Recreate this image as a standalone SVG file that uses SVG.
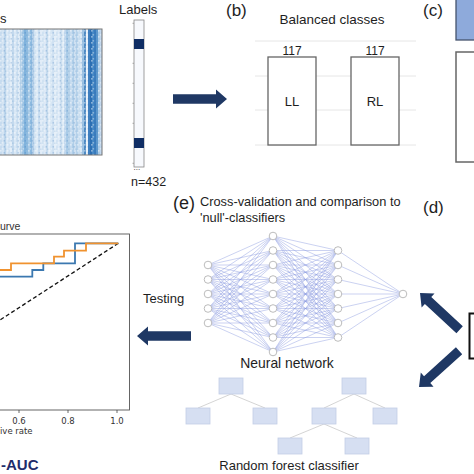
<svg xmlns="http://www.w3.org/2000/svg" width="474" height="474" viewBox="0 0 474 474">
<style>
text{font-family:"Liberation Sans",Arial,sans-serif;fill:#1e1e1e}
.lbl{font-size:17px}
.t13{font-size:13px}
.mpl{font-family:"DejaVu Sans",sans-serif;font-size:8.5px;fill:#333}
.grid{stroke:#e6e6e6;stroke-width:1}
.bar{fill:#fff;stroke:#666;stroke-width:1.3}
.nn{fill:none;stroke:#8a9ae0;stroke-width:0.6;stroke-opacity:0.75;stroke-linejoin:round}
.node{fill:#fff;stroke:#b4b4b4;stroke-width:0.9}
.rf{fill:#d6dff2;stroke:#c3cde6;stroke-width:0.8}
.rfl{stroke:#cfcfcf;stroke-width:0.9}
.arrow{fill:#1f3864}
</style>
<defs>
<path id="arr" d="M0 0L-11 -9.5L-11 -4.7L-54 -4.7L-54 4.7L-11 4.7L-11 9.5Z"/>
<pattern id="speck" width="7" height="6" patternUnits="userSpaceOnUse">
<rect x="0" y="0" width="1.6" height="1.6" fill="#fff" opacity="0.45"/>
<rect x="3.5" y="2" width="1.6" height="1.6" fill="#2f6fb0" opacity="0.22"/>
<rect x="1.5" y="4" width="1.6" height="1.6" fill="#fff" opacity="0.35"/>
<rect x="5" y="4.5" width="1.6" height="1.4" fill="#2f6fb0" opacity="0.15"/>
</pattern>
</defs>

<g id="panel-a">
<text x="0" y="22.5" class="t13">s</text>
<g id="heatmap">
<rect x="0" y="29" width="2" height="126" fill="#c6dbef"/><rect x="2" y="29" width="2" height="126" fill="#d4e4f3"/><rect x="4" y="29" width="2" height="126" fill="#bcd5ec"/><rect x="6" y="29" width="2" height="126" fill="#dbe9f6"/><rect x="8" y="29" width="2" height="126" fill="#cfe1f2"/><rect x="10" y="29" width="2" height="126" fill="#e3eef8"/><rect x="12" y="29" width="2" height="126" fill="#c3d9ee"/><rect x="14" y="29" width="2" height="126" fill="#d8e7f5"/><rect x="16" y="29" width="2" height="126" fill="#cadef0"/><rect x="18" y="29" width="2" height="126" fill="#e0ecf7"/><rect x="20" y="29" width="2" height="126" fill="#b8d3ea"/><rect x="22" y="29" width="2" height="126" fill="#9cc3e3"/><rect x="24" y="29" width="2" height="126" fill="#7fb2dc"/><rect x="26" y="29" width="2" height="126" fill="#90bce0"/><rect x="28" y="29" width="2" height="126" fill="#a6c9e6"/><rect x="30" y="29" width="2" height="126" fill="#8cb9df"/><rect x="32" y="29" width="2" height="126" fill="#b6d1ea"/><rect x="34" y="29" width="2" height="126" fill="#d3e4f3"/><rect x="36" y="29" width="2" height="126" fill="#dceaf6"/><rect x="38" y="29" width="2" height="126" fill="#c9ddf0"/><rect x="40" y="29" width="2" height="126" fill="#e2edf8"/><rect x="42" y="29" width="2" height="126" fill="#d0e2f2"/><rect x="44" y="29" width="2" height="126" fill="#dde9f6"/><rect x="46" y="29" width="2" height="126" fill="#c7dcef"/><rect x="48" y="29" width="2" height="126" fill="#e4eef8"/><rect x="50" y="29" width="2" height="126" fill="#d6e6f4"/><rect x="52" y="29" width="2" height="126" fill="#cfe1f2"/><rect x="54" y="29" width="2" height="126" fill="#e6f0f9"/><rect x="56" y="29" width="2" height="126" fill="#d2e3f3"/><rect x="58" y="29" width="2" height="126" fill="#dfebf7"/><rect x="60" y="29" width="2" height="126" fill="#cde0f1"/><rect x="62" y="29" width="2" height="126" fill="#e1edf7"/><rect x="64" y="29" width="2" height="126" fill="#bed6ed"/><rect x="66" y="29" width="2" height="126" fill="#a9cbe7"/><rect x="68" y="29" width="2" height="126" fill="#b9d4eb"/><rect x="70" y="29" width="2" height="126" fill="#c4daef"/><rect x="72" y="29" width="2" height="126" fill="#aecde8"/><rect x="74" y="29" width="2" height="126" fill="#cfe1f2"/><rect x="76" y="29" width="2" height="126" fill="#b5d1ea"/><rect x="78" y="29" width="2" height="126" fill="#c8ddf0"/><rect x="80" y="29" width="2" height="126" fill="#d9e8f5"/><rect x="82" y="29" width="2" height="126" fill="#9fc4e4"/><rect x="84" y="29" width="2" height="126" fill="#4f8bc4"/><rect x="86" y="29" width="2" height="126" fill="#e8f1fa"/><rect x="88" y="29" width="2" height="126" fill="#3e7fbf"/><rect x="90" y="29" width="2" height="126" fill="#2c6fb3"/><rect x="92" y="29" width="2" height="126" fill="#4688c5"/><rect x="94" y="29" width="2" height="126" fill="#3a7cbd"/><rect x="96" y="29" width="2" height="126" fill="#5e98cc"/><rect x="98" y="29" width="2" height="126" fill="#a9cae7"/><rect x="100" y="29" width="2" height="126" fill="#c2d8ee"/>
<rect x="0" y="29" width="102" height="126" fill="url(#speck)"/>
<rect x="-1" y="29" width="103" height="126" fill="none" stroke="#777" stroke-width="1"/>
</g>
<text x="119" y="14" class="t13">Labels</text>
<g id="labels-bar">
<rect x="134" y="20" width="10" height="147" fill="#f7f9fd" stroke="#888" stroke-width="0.8"/>
<rect x="134" y="39" width="10" height="10" fill="#0f2d64"/>
<rect x="134" y="138" width="10" height="10" fill="#0f2d64"/>
<path d="M132.5 23.3h1.5M132.5 63.3h1.5M132.5 83.3h1.5M132.5 103.3h1.5M132.5 123.3h1.5M132.5 163.3h1.5" stroke="#888" stroke-width="0.7"/>
<text x="133.5" y="170" style="font-size:8px">...</text>
</g>
<text x="131" y="186" style="font-size:12.5px">n=432</text>
</g>

<g id="panel-b">
<text x="226" y="16" class="lbl">(b)</text>
<text x="332" y="24" class="t13" text-anchor="middle" style="font-size:13.5px">Balanced classes</text>
<path class="grid" d="M255 41H416M255 76H416M255 110H416M255 145H416"/>
<g id="bar-LL">
<rect x="268" y="57" width="48" height="88" class="bar"/>
<text x="292" y="55" text-anchor="middle" style="font-size:12px">117</text>
<text x="292" y="105.5" text-anchor="middle" class="t13">LL</text>
</g>
<g id="bar-RL">
<rect x="351" y="57" width="48" height="88" class="bar"/>
<text x="375" y="55" text-anchor="middle" style="font-size:12px">117</text>
<text x="375" y="105.5" text-anchor="middle" class="t13">RL</text>
</g>
</g>

<g id="panel-c">
<text x="423" y="16" class="lbl">(c)</text>
<rect x="456" y="-1" width="22" height="41" fill="#8eaadb" stroke="#45546e" stroke-width="1.3"/>
<rect x="456" y="52" width="22" height="110" fill="#fff" stroke="#666" stroke-width="1.5"/>
</g>

<g id="panel-d">
<text x="423" y="213" class="lbl">(d)</text>
<rect x="469.5" y="313.5" width="10" height="45" fill="#fff" stroke="#111" stroke-width="2"/>
</g>

<g id="panel-e">
<text x="173" y="209" style="font-size:18px">(e)</text>
<text x="200" y="206" style="font-size:12.8px">Cross-validation and comparison to</text>
<text x="200" y="222" style="font-size:12.8px">'null'-classifiers</text>
<g id="neural-network">
<path class="nn" d="M273 236L208 265L273 250.5M273 265L208 265L273 279.5M273 294L208 265L273 308.5M273 323L208 265L273 337.5M273 352L208 265
M273 236L208 279.5L273 250.5M273 265L208 279.5L273 279.5M273 294L208 279.5L273 308.5M273 323L208 279.5L273 337.5M273 352L208 279.5
M273 236L208 294L273 250.5M273 265L208 294L273 279.5M273 294L208 294L273 308.5M273 323L208 294L273 337.5M273 352L208 294
M273 236L208 308.5L273 250.5M273 265L208 308.5L273 279.5M273 294L208 308.5L273 308.5M273 323L208 308.5L273 337.5M273 352L208 308.5
M273 236L208 323L273 250.5M273 265L208 323L273 279.5M273 294L208 323L273 308.5M273 323L208 323L273 337.5M273 352L208 323"/>
<path class="nn" d="M273 236L338 250.5L273 250.5M273 265L338 250.5L273 279.5M273 294L338 250.5L273 308.5M273 323L338 250.5L273 337.5M273 352L338 250.5
M273 236L338 265L273 250.5M273 265L338 265L273 279.5M273 294L338 265L273 308.5M273 323L338 265L273 337.5M273 352L338 265
M273 236L338 279.5L273 250.5M273 265L338 279.5L273 279.5M273 294L338 279.5L273 308.5M273 323L338 279.5L273 337.5M273 352L338 279.5
M273 236L338 294L273 250.5M273 265L338 294L273 279.5M273 294L338 294L273 308.5M273 323L338 294L273 337.5M273 352L338 294
M273 236L338 308.5L273 250.5M273 265L338 308.5L273 279.5M273 294L338 308.5L273 308.5M273 323L338 308.5L273 337.5M273 352L338 308.5
M273 236L338 323L273 250.5M273 265L338 323L273 279.5M273 294L338 323L273 308.5M273 323L338 323L273 337.5M273 352L338 323
M273 236L338 337.5L273 250.5M273 265L338 337.5L273 279.5M273 294L338 337.5L273 308.5M273 323L338 337.5L273 337.5M273 352L338 337.5"/>
<path class="nn" d="M338 250.5L403 294L338 265M338 279.5L403 294L338 294M338 308.5L403 294L338 323M338 337.5L403 294"/>
<g class="node">
<circle cx="208" cy="265" r="3.8"/><circle cx="208" cy="279.5" r="3.8"/><circle cx="208" cy="294" r="3.8"/><circle cx="208" cy="308.5" r="3.8"/><circle cx="208" cy="323" r="3.8"/>
<circle cx="273" cy="236" r="3.8"/><circle cx="273" cy="250.5" r="3.8"/><circle cx="273" cy="265" r="3.8"/><circle cx="273" cy="279.5" r="3.8"/><circle cx="273" cy="294" r="3.8"/><circle cx="273" cy="308.5" r="3.8"/><circle cx="273" cy="323" r="3.8"/><circle cx="273" cy="337.5" r="3.8"/><circle cx="273" cy="352" r="3.8"/>
<circle cx="338" cy="250.5" r="3.8"/><circle cx="338" cy="265" r="3.8"/><circle cx="338" cy="279.5" r="3.8"/><circle cx="338" cy="294" r="3.8"/><circle cx="338" cy="308.5" r="3.8"/><circle cx="338" cy="323" r="3.8"/><circle cx="338" cy="337.5" r="3.8"/>
<circle cx="403" cy="294" r="3.8"/>
</g>
<text x="287" y="368" text-anchor="middle" style="font-size:13.9px">Neural network</text>
</g>
<g id="random-forest">
<path class="rfl" d="M231 394L198 408M231 394L265 408M354 394L324 408M354 394L385 408M324 424L290 438M324 424L357 438"/>
<rect class="rf" x="219" y="378" width="24" height="16"/>
<rect class="rf" x="186" y="408" width="24" height="16"/>
<rect class="rf" x="253" y="408" width="24" height="16"/>
<rect class="rf" x="342" y="378" width="24" height="16"/>
<rect class="rf" x="312" y="408" width="24" height="16"/>
<rect class="rf" x="373" y="408" width="24" height="16"/>
<rect class="rf" x="278" y="438" width="24" height="16"/>
<rect class="rf" x="345" y="438" width="24" height="16"/>
<text x="289" y="470" text-anchor="middle" class="t13">Random forest classifier</text>
</g>
</g>

<g id="panel-roc">
<text x="0" y="230" style="font-size:10.5px;fill:#333">urve</text>
<rect x="-2" y="234" width="131.5" height="176" fill="#fff" stroke="#555" stroke-width="0.9"/>
<path d="M118.3 243.3L0 320" fill="none" stroke="#111" stroke-width="1.3" stroke-dasharray="4 2.5"/>
<path d="M0 276.7H32.3V270H43.3V263.3H75V243.3H118.3" fill="none" stroke="#3b78b0" stroke-width="1.8"/>
<path d="M0 270H11V263.3H54V256.7H64V250.7H86V243.3H118.3" fill="none" stroke="#f0922f" stroke-width="1.8"/>
<path d="M19 410v3M68 410v3M117 410v3" stroke="#444" stroke-width="0.8"/>
<text x="19" y="423.5" text-anchor="middle" class="mpl">0.6</text>
<text x="68" y="423.5" text-anchor="middle" class="mpl">0.8</text>
<text x="117" y="423.5" text-anchor="middle" class="mpl">1.0</text>
<text x="0" y="434" class="mpl">ive rate</text>
<text x="1" y="470" style="font-size:15px;font-weight:bold;fill:#1f2d6b">-AUC</text>
</g>

<g id="connectors">
<use href="#arr" class="arrow" transform="translate(227 99)"/>
<use href="#arr" class="arrow" transform="translate(137 336) rotate(180)"/>
<use href="#arr" class="arrow" transform="translate(420 293) rotate(-137.2)"/>
<use href="#arr" class="arrow" transform="translate(419 387) rotate(137.9)"/>
<text x="143" y="303" class="t13">Testing</text>
</g>
</svg>
